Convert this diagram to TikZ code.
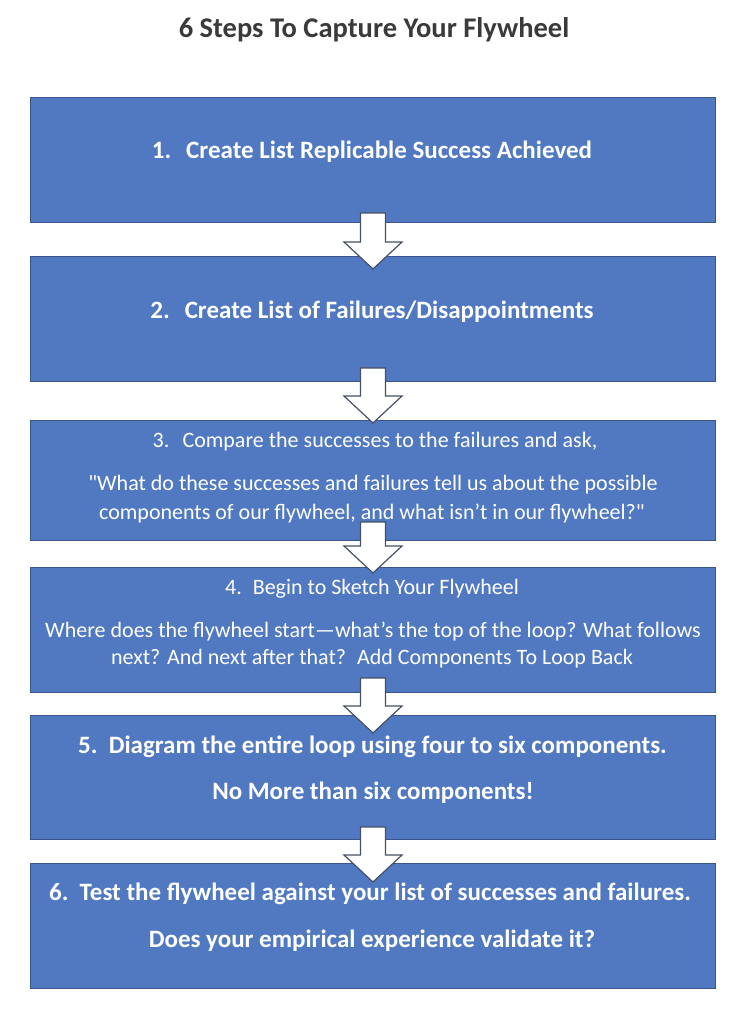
\documentclass[tikz,border=0pt]{standalone}
\usepackage{fontspec}
\setmainfont{Carlito}[Ligatures=TeXOff]
\usetikzlibrary{calc}
\definecolor{boxblue}{RGB}{80,121,194}
\definecolor{boxedge}{RGB}{58,85,140}
\definecolor{arrowedge}{RGB}{70,80,100}
\definecolor{titlegray}{RGB}{58,58,58}
\tikzset{
  stepbox/.style={draw=boxedge, line width=1.1pt, fill=boxblue, minimum width=685pt, minimum height=#1, inner sep=0pt, anchor=north west},
  steptext/.style={text=white, anchor=base, inner sep=0pt},
  boldtext/.style={steptext, font=\fontsize{25}{30}\selectfont\bfseries},
  regtext/.style={steptext, font=\fontsize{22}{26}\selectfont},
  blockarrow/.style={draw=arrowedge, line width=1.2pt, fill=white, line join=miter},
}
\newcommand{\flowarrow}[2]{%
  \draw[blockarrow] let \p1=(#1), \p2=(#2) in
    (\x1-12.5pt,\y1) -- (\x1+12.5pt,\y1) -- (\x1+12.5pt,\y2+27pt) -- (\x1+29pt,\y2+27pt)
    -- (\x2,\y2) -- (\x1-29pt,\y2+27pt) -- (\x1-12.5pt,\y2+27pt) -- cycle;}
\begin{document}
\begin{tikzpicture}[x=1pt,y=-1pt]
\useasboundingbox[fill=white] (0,0) rectangle (750,1015);
\node[anchor=base, inner sep=0pt, text=titlegray, font=\fontsize{28.5}{34}\selectfont\bfseries] (title) at (374,37) {6 Steps To Capture Your Flywheel};

\node[stepbox=125pt] (b1) at (30,97) {};
\node[stepbox=125pt] (b2) at (30,256) {};
\node[stepbox=120pt] (b3) at (30,420) {};
\node[stepbox=125pt] (b4) at (30,567) {};
\node[stepbox=124pt] (b5) at (30,715) {};
\node[stepbox=125pt] (b6) at (30,863) {};

\coordinate (a1s) at (373,213); \coordinate (a1e) at (373,269);
\coordinate (a2s) at (373,368); \coordinate (a2e) at (373,423);
\coordinate (a3s) at (373,522); \coordinate (a3e) at (373,573);
\coordinate (a4s) at (373,678); \coordinate (a4e) at (373,733);
\coordinate (a5s) at (373,827); \coordinate (a5e) at (373,882);

\node[boldtext] (t1) at (372,158.5) {1.\hspace{0.6em}Create List Replicable Success Achieved};
\node[boldtext] (t2) at (372,318.5) {2.\hspace{0.6em}Create List of Failures/Disappointments};

\node[regtext] (t3a) at (375,447.5) {3.\hspace{0.6em}Compare the successes to the failures and ask,};
\node[regtext] (t3b) at (373,490.5) {"What do these successes and failures tell us about the possible};
\node[regtext] (t3c) at (372,519.5) {components of our flywheel, and what isn’t in our flywheel?"};

\node[regtext] (t4a) at (372,594.5) {4.\hspace{0.5em}Begin to Sketch Your Flywheel};
\node[regtext] (t4b) at (373,637.5) {Where does the flywheel start—what’s the top of the loop? What follows};
\node[regtext] (t4c) at (372,664.5) {next? And next after that?\hspace{0.5em}Add Components To Loop Back};

\node[boldtext] (t5a) at (372.5,753.5) {5.\hspace{0.45em}Diagram the entire loop using four to six components.};
\node[boldtext] (t5b) at (373,799.5) {No More than six components!};

\node[boldtext] (t6a) at (370,900.5) {6.\hspace{0.45em}Test the flywheel against your list of successes and failures.};
\node[boldtext] (t6b) at (372,947.5) {Does your empirical experience validate it?};

\flowarrow{a1s}{a1e}
\flowarrow{a2s}{a2e}
\flowarrow{a3s}{a3e}
\flowarrow{a4s}{a4e}
\flowarrow{a5s}{a5e}
\end{tikzpicture}
\end{document}
